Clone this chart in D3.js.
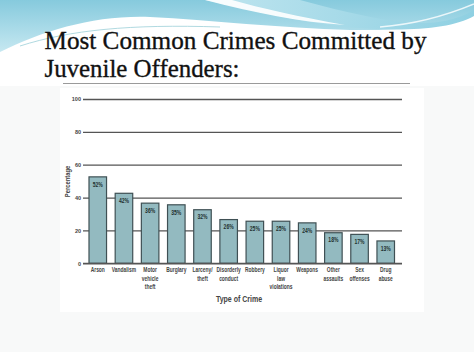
<!DOCTYPE html>
<html>
<head>
<meta charset="utf-8">
<script src="https://cdn.jsdelivr.net/npm/d3@7"></script>
<style>
  html, body { margin: 0; padding: 0; background: #ffffff; }
  svg { display: block; }
</style>
</head>
<body>
<script>
// ---- data ----
const categories = [
  ["Arson"], ["Vandalism"], ["Motor", "vehicle", "theft"], ["Burglary"],
  ["Larceny/", "theft"], ["Disorderly", "conduct"], ["Robbery"],
  ["Liquor", "law", "violations"], ["Weapons"], ["Other", "assaults"],
  ["Sex", "offenses"], ["Drug", "abuse"]
];
const percentages = [52, 42, 36, 35, 32, 26, 25, 25, 24, 18, 17, 13];
const yTicks = [0, 20, 40, 60, 80, 100];
const titleLines = ["Most Common Crimes Committed by", "Juvenile Offenders:"];
const xTitle = "Type of Crime";
const yTitle = "Percentage";

const W = 474, H = 355;
const svg = d3.select("body").append("svg").attr("width", W).attr("height", H);
const defs = svg.append("defs");

// ---- background ----
svg.append("rect").attr("width", W).attr("height", H).attr("fill", "#ffffff");
svg.append("rect").attr("x", 0).attr("y", 86).attr("width", W).attr("height", 266).attr("fill", "#f8f9f9");
svg.append("rect").attr("x", 60).attr("y", 88).attr("width", 364).attr("height", 224).attr("fill", "#ffffff");

const g1 = defs.append("linearGradient").attr("id", "sky").attr("x1", 0).attr("y1", 0).attr("x2", 0).attr("y2", 1);
g1.append("stop").attr("offset", "0%").attr("stop-color", "#86cadd");
g1.append("stop").attr("offset", "100%").attr("stop-color", "#c6e8f1");
const g2 = defs.append("linearGradient").attr("id", "sky2").attr("x1", 0).attr("y1", 0).attr("x2", 1).attr("y2", 0);
g2.append("stop").attr("offset", "0%").attr("stop-color", "#bfe5ef");
g2.append("stop").attr("offset", "100%").attr("stop-color", "#8fd0e2");

svg.append("path")
  .attr("d", "M0,0 H474 V14 C440,26 400,31 350,30 C280,28 210,20 150,17 C95,15 45,30 0,52 Z")
  .attr("fill", "url(#sky)");
svg.append("path")
  .attr("d", "M205,0 H300 C330,8 360,16 400,22 C440,26 460,18 474,10 V16 C450,30 400,32 345,27 C290,20 250,10 205,0 Z")
  .attr("fill", "url(#sky2)");
svg.append("path")
  .attr("d", "M205,0 H232 C260,8 300,17 345,25 C300,22 255,13 205,0 Z")
  .attr("fill", "#ffffff").attr("opacity", 0.9);
svg.append("path")
  .attr("d", "M380,27 C420,24 450,14 474,4")
  .attr("fill", "none").attr("stroke", "#ffffff").attr("stroke-width", 1.5).attr("opacity", 0.8);
svg.append("path")
  .attr("d", "M20,46 C70,30 130,24 220,27")
  .attr("fill", "none").attr("stroke", "#9ccfd8").attr("stroke-width", 0.8);

// ---- title ----
const title = svg.append("g").attr("font-family", "'Liberation Serif', 'DejaVu Serif', serif")
  .attr("fill", "#111").attr("stroke", "#111").attr("stroke-width", 0.35);
title.append("text").attr("x", 44.5).attr("y", 49).attr("font-size", 25.5)
  .attr("textLength", 382).attr("lengthAdjust", "spacingAndGlyphs").text(titleLines[0]);
title.append("text").attr("x", 44.5).attr("y", 77).attr("font-size", 25.5)
  .attr("textLength", 195).attr("lengthAdjust", "spacingAndGlyphs").text(titleLines[1]);
svg.append("line").attr("x1", 63).attr("x2", 410).attr("y1", 83.5).attr("y2", 83.5)
  .attr("stroke", "#9a9a9a").attr("stroke-width", 1);

// ---- chart ----
const fontSans = "'Liberation Sans', Arial, sans-serif";
const squeeze = 0.78;
const y = d3.scaleLinear().domain([0, 100]).range([263.3, 99]);
const x = d3.scaleBand().domain(d3.range(categories.length)).range([89, 394.5]).paddingInner(0.33).paddingOuter(0);
const gridLeft = 83, gridRight = 402;

const yAxis = svg.append("g").attr("transform", `translate(${gridLeft},0)`)
  .call(d3.axisLeft(y).tickValues(yTicks).tickSize(-(gridRight - gridLeft)).tickPadding(2).tickFormat(d3.format("d")));
yAxis.select(".domain").remove();
yAxis.selectAll(".tick line").attr("stroke", "#555").attr("stroke-width", 1.3);
yAxis.selectAll(".tick text").attr("font-family", fontSans).attr("font-weight", "bold")
  .attr("font-size", 5.5).attr("fill", "#444");

svg.append("text")
  .attr("transform", `translate(68.5,181.5) rotate(-90) scale(${squeeze},1)`)
  .attr("text-anchor", "middle").attr("dominant-baseline", "middle")
  .attr("font-family", fontSans).attr("font-weight", "bold").attr("font-size", 7.5)
  .attr("fill", "#444").text(yTitle);

const bars = svg.append("g");
bars.selectAll("rect").data(percentages).join("rect")
  .attr("x", (d, i) => x(i))
  .attr("y", d => y(d) - 1)
  .attr("width", x.bandwidth())
  .attr("height", d => y(0) - y(d) + 1)
  .attr("fill", "#93bac0")
  .attr("stroke", "#3f5054").attr("stroke-width", 1.2);

bars.selectAll("text").data(percentages).join("text")
  .attr("transform", (d, i) => `translate(${x(i) + x.bandwidth() / 2},${y(d) + 7}) scale(${squeeze},1)`)
  .attr("text-anchor", "middle").attr("dominant-baseline", "middle")
  .attr("font-family", fontSans).attr("font-weight", "bold").attr("font-size", 6.5)
  .attr("fill", "#22302f").text(d => d + "%");

// x axis baseline
svg.append("line").attr("x1", gridLeft).attr("x2", gridRight).attr("y1", y(0)).attr("y2", y(0))
  .attr("stroke", "#555").attr("stroke-width", 1.3);

const xl = svg.append("g");
categories.forEach((lines, i) => {
  const t = xl.append("text")
    .attr("transform", `translate(${x(i) + x.bandwidth() / 2},272) scale(${squeeze},1)`)
    .attr("text-anchor", "middle")
    .attr("font-family", fontSans).attr("font-weight", "bold").attr("font-size", 6.3)
    .attr("fill", "#444");
  lines.forEach((ln, j) => {
    t.append("tspan").attr("x", 0).attr("dy", j === 0 ? 0 : 8.7).text(ln);
  });
});

svg.append("text")
  .attr("transform", `translate(239,301.5) scale(${squeeze},1)`)
  .attr("text-anchor", "middle")
  .attr("font-family", fontSans).attr("font-weight", "bold").attr("font-size", 9)
  .attr("fill", "#444").text(xTitle);
</script>
</body>
</html>
